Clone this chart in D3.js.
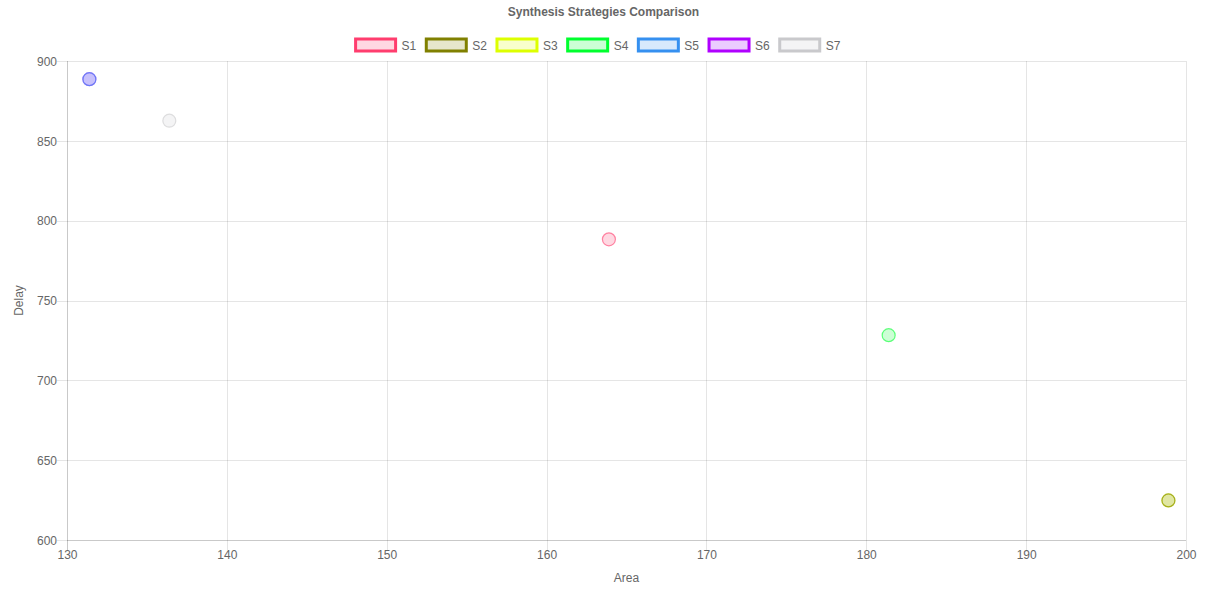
<!DOCTYPE html>
<html>
<head>
<meta charset="utf-8">
<script src="https://cdn.jsdelivr.net/npm/d3@7"></script>
<style>
  html, body { margin: 0; padding: 0; background: #fff; }
  svg { display: block; font-family: "Liberation Sans", Arial, Helvetica, sans-serif; }
</style>
</head>
<body>
<svg id="chart" width="1229" height="614"></svg>
<script>
// series, one point each
const seriesNames = ["S1", "S2", "S3", "S4", "S5", "S6", "S7"];
const areaValues  = [163.9, 198.9, 198.9, 181.4, 131.4, 131.4, 136.4];
const delayValues = [788.3, 624.8, 624.8, 728.3, 888.6, 888.6, 862.6];
const borderColors = ["#ff3d6e", "#808000", "#ddff00", "#00ff2e", "#3590f0", "#b000ff", "#c9c9cc"];
const fillColors = [
  "rgba(255,61,110,0.2)", "rgba(128,128,0,0.2)", "rgba(221,255,0,0.2)", "rgba(0,255,46,0.2)",
  "rgba(53,144,240,0.2)", "rgba(153,0,255,0.2)", "rgba(201,201,204,0.2)"
];
const xTicks = [130, 140, 150, 160, 170, 180, 190, 200];
const yTicks = [600, 650, 700, 750, 800, 850, 900];

const svg = d3.select("#chart");
const plot = { left: 67, right: 1186, top: 61, bottom: 540 };
const textColor = "#666";
const gridColor = "rgba(0,0,0,0.1)";

let x = d3.scaleLinear().domain([130, 200]).range([plot.left, plot.right]);
let y = d3.scaleLinear().domain([600, 900]).range([plot.bottom, plot.top]);

// title
svg.append("text")
  .attr("x", 603.5).attr("y", 16)
  .attr("text-anchor", "middle")
  .attr("font-size", 12).attr("font-weight", "bold")
  .attr("fill", textColor)
  .text("Synthesis Strategies Comparison");

// legend
let legend = svg.append("g").attr("class", "legend");
let measure = svg.append("text").attr("font-size", 12).attr("visibility", "hidden");
let widths = seriesNames.map(n => { measure.text(n); return measure.node().getComputedTextLength(); });
measure.remove();
let total = d3.sum(widths, w => 46 + w) + 10 * (seriesNames.length - 1);
let lx = 598 - total / 2;
seriesNames.forEach((name, i) => {
  let g = legend.append("g").attr("transform", "translate(" + lx + ",0)");
  g.append("rect")
    .attr("x", 0).attr("y", 39).attr("width", 40).attr("height", 12)
    .attr("fill", fillColors[i])
    .attr("stroke", borderColors[i]).attr("stroke-width", 3);
  g.append("text")
    .attr("x", 46).attr("y", 49.5)
    .attr("font-size", 12).attr("fill", textColor)
    .text(name);
  lx += 46 + widths[i] + 10;
});

// grid + axes
let xAxis = d3.axisBottom(x).tickValues(xTicks).tickSizeInner(-(plot.bottom - plot.top)).tickSizeOuter(0).tickPadding(15);
let yAxis = d3.axisLeft(y).tickValues(yTicks).tickSizeInner(-(plot.right - plot.left)).tickSizeOuter(0).tickPadding(15);

let gx = svg.append("g").attr("transform", "translate(0," + plot.bottom + ")").call(xAxis);
gx.select(".domain").remove();
gx.selectAll(".tick line").attr("stroke", gridColor).attr("y1", 10).attr("shape-rendering", "crispEdges");
gx.selectAll(".tick text").attr("fill", textColor).attr("font-size", 12)
  .attr("font-family", "Liberation Sans, Arial, sans-serif").attr("y", 19).attr("dy", 0);

let gy = svg.append("g").attr("transform", "translate(" + plot.left + ",0)").call(yAxis);
gy.select(".domain").remove();
gy.selectAll(".tick line").attr("stroke", gridColor).attr("x1", -10).attr("shape-rendering", "crispEdges");
gy.selectAll(".tick text").attr("fill", textColor).attr("font-size", 12)
  .attr("font-family", "Liberation Sans, Arial, sans-serif").attr("x", -10).attr("dy", "0.35em");

// axis lines slightly stronger
svg.append("line").attr("x1", plot.left).attr("x2", plot.right).attr("y1", plot.bottom).attr("y2", plot.bottom)
  .attr("stroke", "rgba(0,0,0,0.12)").attr("shape-rendering", "crispEdges");
svg.append("line").attr("x1", plot.left).attr("x2", plot.left).attr("y1", plot.top).attr("y2", plot.bottom + 10)
  .attr("stroke", "rgba(0,0,0,0.12)").attr("shape-rendering", "crispEdges");

// axis titles
svg.append("text")
  .attr("x", 626.5).attr("y", 581.5)
  .attr("text-anchor", "middle").attr("font-size", 12).attr("fill", textColor)
  .text("Area");
svg.append("text")
  .attr("transform", "translate(22.5," + ((plot.top + plot.bottom) / 2) + ") rotate(-90)")
  .attr("text-anchor", "middle").attr("font-size", 12).attr("fill", textColor)
  .text("Delay");

// points, first series drawn last so it sits on top
let order = d3.range(seriesNames.length).reverse();
svg.append("g").attr("class", "points")
  .selectAll("circle")
  .data(order).enter()
  .append("circle")
    .attr("cx", i => x(areaValues[i]))
    .attr("cy", i => y(delayValues[i]))
    .attr("r", 6.5)
    .attr("fill", i => fillColors[i])
    .attr("stroke", i => borderColors[i])
    .attr("stroke-opacity", 0.6)
    .attr("stroke-width", 1.2);
</script>
</body>
</html>
